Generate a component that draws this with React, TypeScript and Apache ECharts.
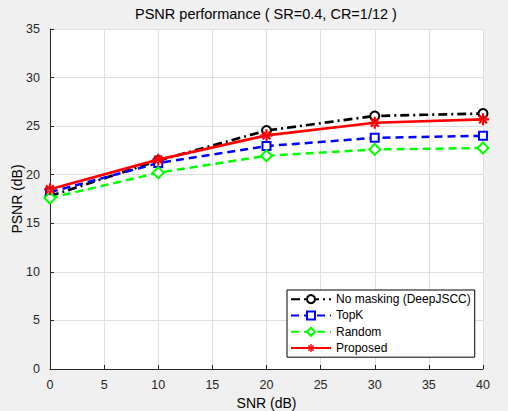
import React, { useEffect, useRef } from "react";
import * as echarts from "echarts";

const snr = [0, 10, 20, 30, 40];
const noMasking = [17.8, 21.45, 24.55, 26.05, 26.3];
const topK = [18.2, 21.2, 22.95, 23.8, 24.0];
const randomMask = [17.6, 20.2, 21.95, 22.6, 22.75];
const proposed = [18.5, 21.55, 24.05, 25.35, 25.7];
const seriesNames = ["No masking (DeepJSCC)", "TopK", "Random", "Proposed"];

const asterisk =
  "path://M-0.9,-5 L0.9,-5 L0.9,5 L-0.9,5 Z M-5,-0.9 L5,-0.9 L5,0.9 L-5,0.9 Z M-3.9,-2.6 L-2.6,-3.9 L3.9,2.6 L2.6,3.9 Z M3.9,-2.6 L2.6,-3.9 L-3.9,2.6 L-2.6,3.9 Z";

const FONT = "'Liberation Sans', Arial, Helvetica, sans-serif";
const AX = "#262626";

export default function App() {
  const ref = useRef<HTMLDivElement>(null);
  useEffect(() => {
    if (!ref.current) return;
    const chart = echarts.init(ref.current, undefined, { renderer: "svg" });
    const pts = (arr: number[]) => arr.map((v, i) => [snr[i], v]);
    chart.setOption({
      animation: false,
      backgroundColor: "#f0f0f0",
      textStyle: { fontFamily: FONT },
      title: {
        text: "PSNR performance ( SR=0.4, CR=1/12 )",
        left: 135,
        top: 6,
        padding: 0,
        textStyle: { fontSize: 14.5, fontWeight: "normal", color: "#000", fontFamily: FONT },
      },
      grid: {
        left: 50,
        right: 25,
        top: 29,
        bottom: 42,
        outerBoundsMode: "none",
        containLabel: false,
        show: true,
        backgroundColor: "#ffffff",
        borderWidth: 0,
      },
      xAxis: {
        type: "value",
        min: 0,
        max: 40,
        interval: 5,
        name: "SNR (dB)",
        nameLocation: "middle",
        nameGap: 27,
        nameMoveOverlap: false,
        nameTextStyle: { fontSize: 14, color: "#000", fontFamily: FONT },
        axisLine: { show: true, lineStyle: { color: AX, width: 1 } },
        axisTick: { show: true, inside: true, length: 4, lineStyle: { color: AX } },
        axisLabel: { fontSize: 12.5, color: AX, margin: 9, fontFamily: FONT },
        splitLine: { show: true, lineStyle: { color: "#dfdfdf", width: 1 } },
      },
      yAxis: {
        type: "value",
        min: 0,
        max: 35,
        interval: 5,
        name: "PSNR (dB)",
        nameLocation: "middle",
        nameGap: 26,
        nameMoveOverlap: false,
        nameTextStyle: { fontSize: 14, color: "#000", fontFamily: FONT },
        axisLine: { show: true, lineStyle: { color: AX, width: 1 } },
        axisTick: { show: true, inside: true, length: 4, lineStyle: { color: AX } },
        axisLabel: { fontSize: 12.5, color: AX, margin: 10, fontFamily: FONT },
        splitLine: { show: true, lineStyle: { color: "#dfdfdf", width: 1 } },
      },
      legend: {
        orient: "vertical",
        left: 287,
        top: 290,
        backgroundColor: "#ffffff",
        borderColor: "#000",
        borderWidth: 1,
        padding: [1, 4, 1, 3],
        itemGap: 0,
        itemWidth: 40,
        itemHeight: 10,
        textStyle: { fontSize: 12, color: "#000", fontFamily: FONT, lineHeight: 16.3 },
        data: seriesNames,
      },
      series: [
        {
          name: seriesNames[0],
          type: "line",
          data: pts(noMasking),
          symbol: "emptyCircle",
          symbolSize: 9,
          color: "#000000",
          itemStyle: { color: "#000000", borderWidth: 2 },
          lineStyle: { color: "#000000", width: 2.7, type: [9, 4, 2, 4] },
          z: 2,
        },
        {
          name: seriesNames[1],
          type: "line",
          data: pts(topK),
          symbol: "emptyRect",
          symbolSize: 8,
          color: "#0000ff",
          itemStyle: { color: "#0000ff", borderWidth: 2 },
          lineStyle: { color: "#0000ff", width: 2.5, type: [8, 5] },
          z: 3,
        },
        {
          name: seriesNames[2],
          type: "line",
          data: pts(randomMask),
          symbol: "emptyDiamond",
          symbolSize: 11,
          color: "#00ff00",
          itemStyle: { color: "#00ff00", borderWidth: 2 },
          lineStyle: { color: "#00ff00", width: 2.5, type: [8, 5] },
          z: 4,
        },
        {
          name: seriesNames[3],
          type: "line",
          data: pts(proposed),
          symbol: asterisk,
          symbolSize: 12,
          color: "#ff0000",
          itemStyle: { color: "#ff0000" },
          lineStyle: { color: "#ff0000", width: 2.7, type: "solid" },
          z: 5,
        },
      ],
    });
    return () => chart.dispose();
  }, []);
  return (
    <div
      ref={ref}
      style={{ position: "fixed", left: 0, top: 0, width: 508, height: 411 }}
    />
  );
}
